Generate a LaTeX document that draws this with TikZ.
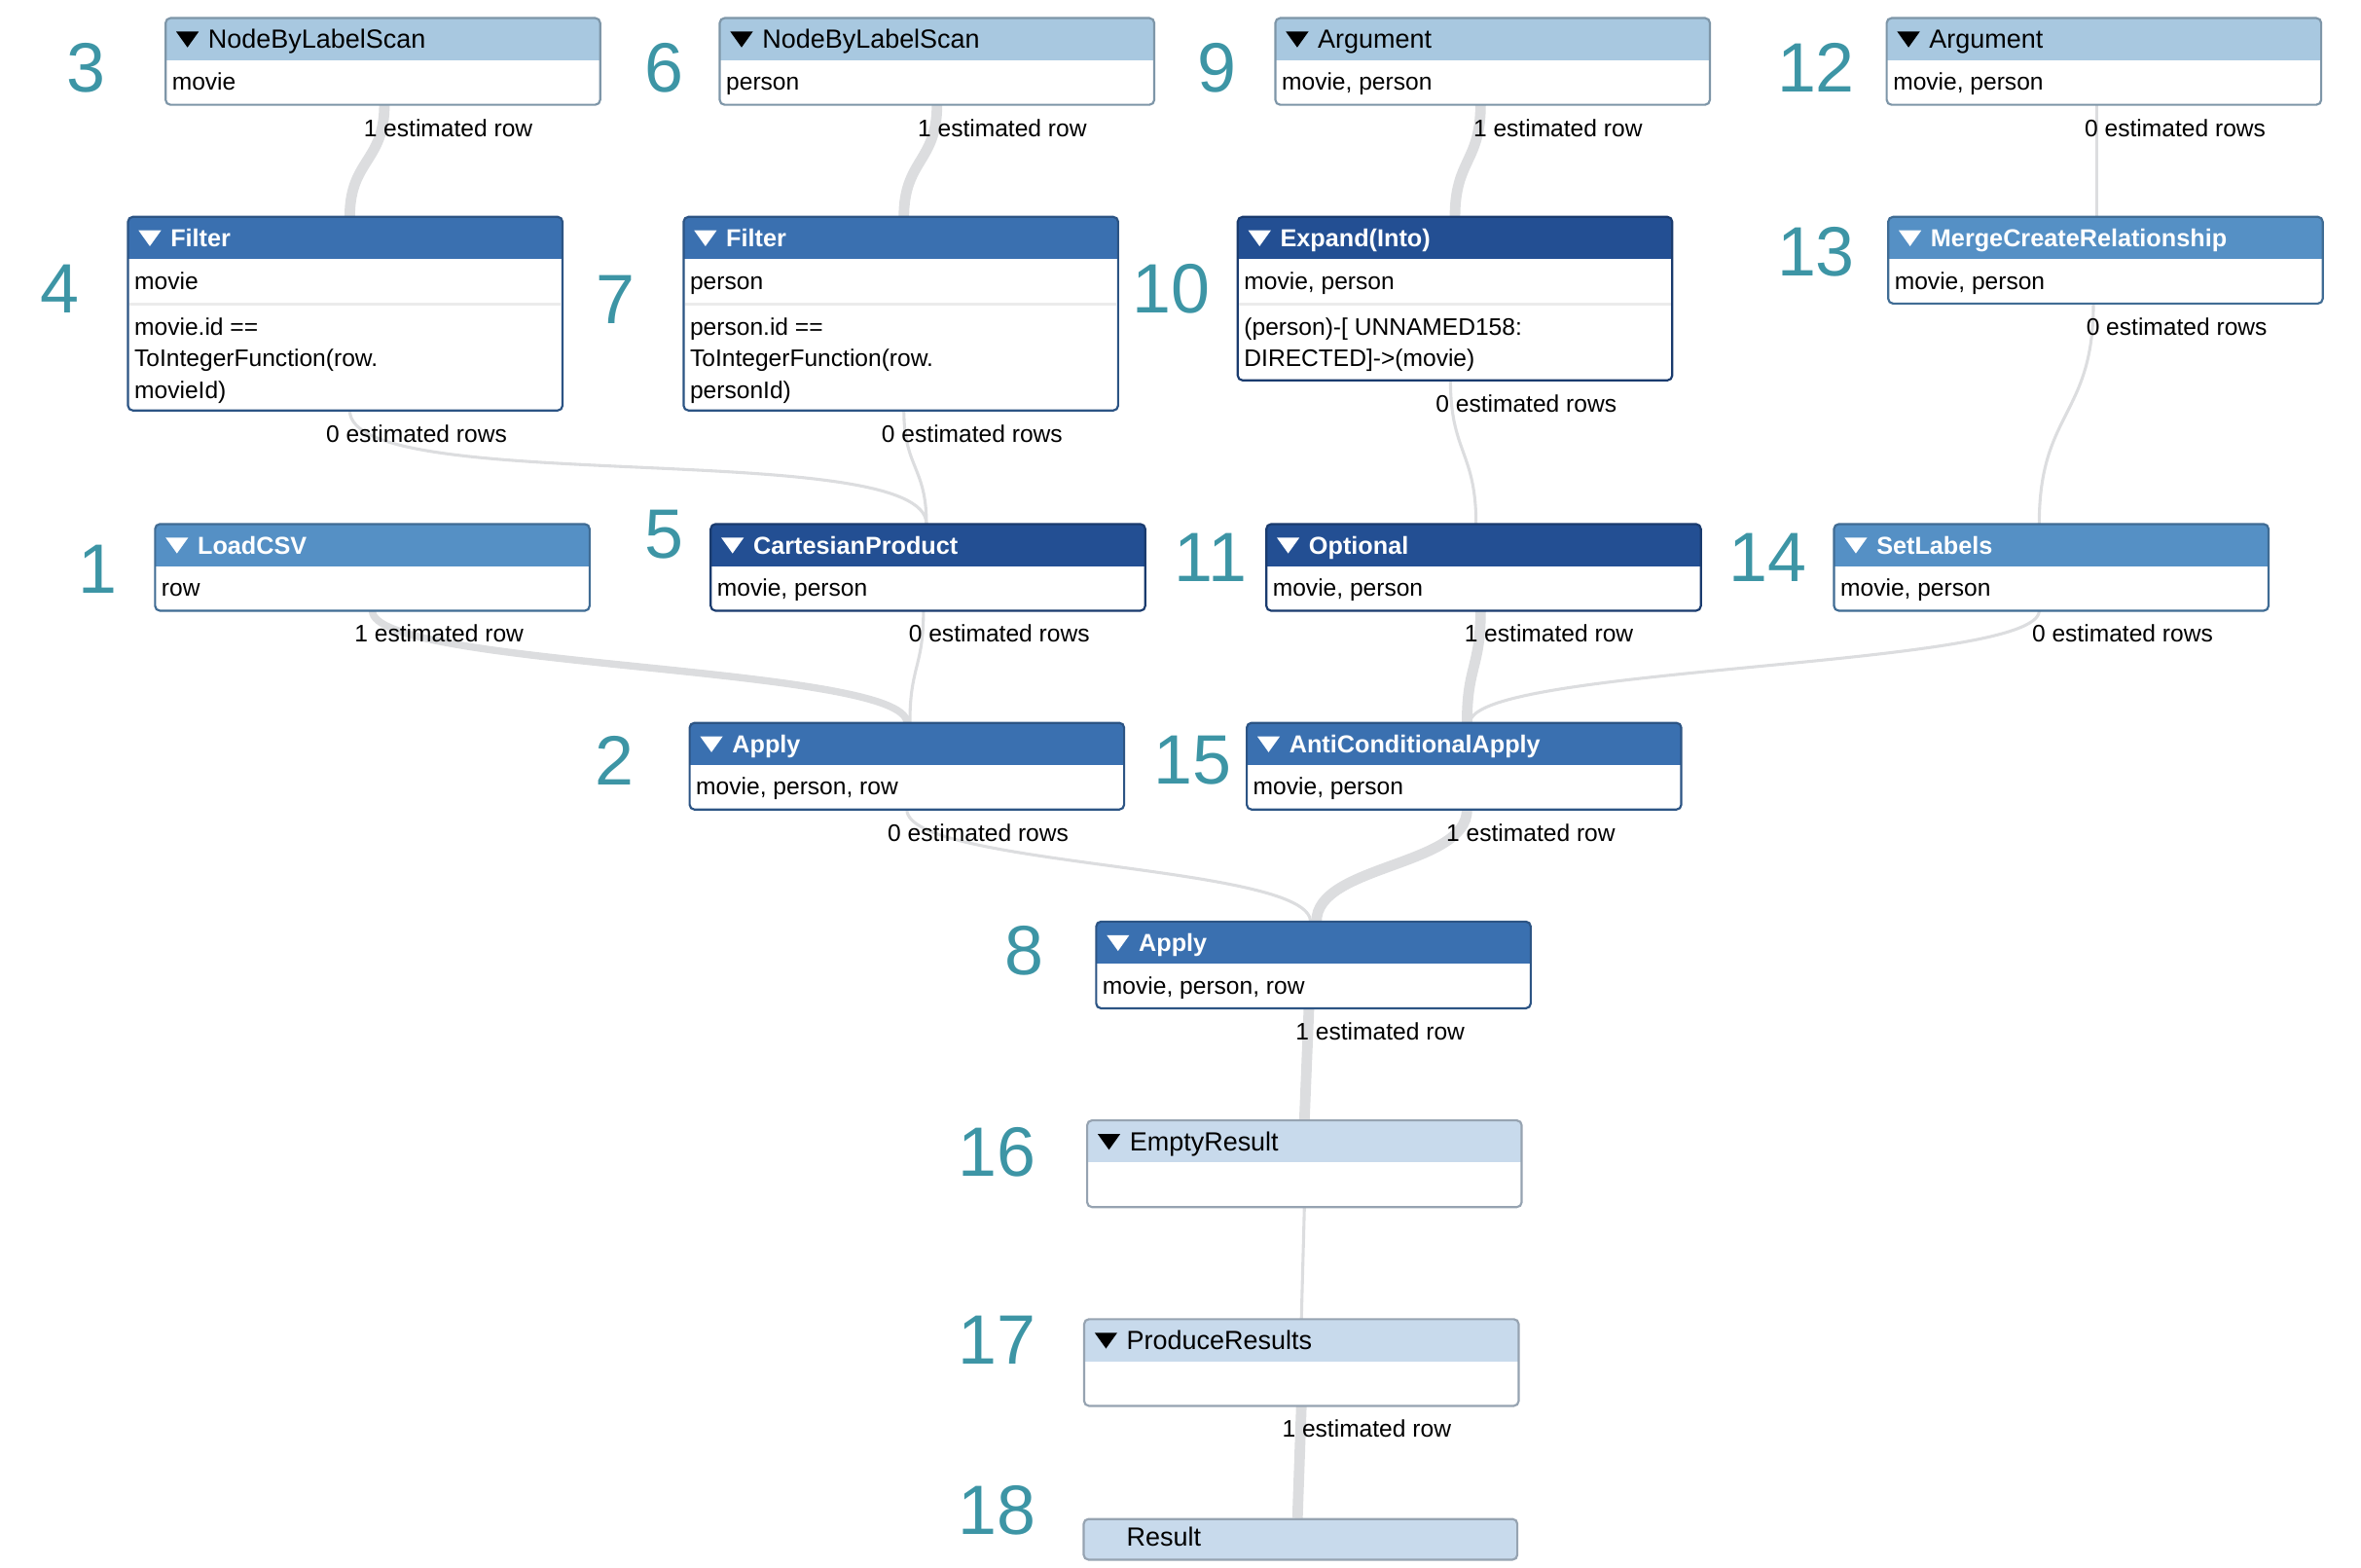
\documentclass[tikz,border=0pt]{standalone}
\usepackage{fontspec}
\setmainfont{Liberation Sans}
\usetikzlibrary{calc}
\pgfdeclarelayer{background}
\pgfsetlayers{background,main}

\definecolor{hdrlight}{HTML}{A8C8E0}
\definecolor{hdrfilter}{HTML}{3A70B0}
\definecolor{hdrdark}{HTML}{234F93}
\definecolor{hdrmid}{HTML}{5590C5}
\definecolor{hdrpale}{HTML}{C8DAEC}
\definecolor{flowgray}{HTML}{DCDDDF}
\definecolor{numteal}{HTML}{3D95A5}

\tikzset{
  boxframe/.style={draw=none, fill=white, minimum width=72mm, inner sep=0pt},
  bodytxt/.style={inner sep=0pt, anchor=base west, font=\fontsize{11.3}{13}\selectfont},
  titletxt/.style={inner sep=0pt, anchor=base west, font=\fontsize{11.6}{13}\selectfont},
  rowslbl/.style={inner sep=0pt, anchor=base west, font=\fontsize{11.3}{13}\selectfont},
  opnum/.style={text=numteal, font=\fontsize{33}{33}\selectfont},
  sepline/.style={draw=black!8, line width=0.5mm},
  bigflow/.style={draw=flowgray, line width=1.75mm},
  midflow/.style={draw=flowgray, line width=1.2mm},
  thinflow/.style={draw=flowgray, line width=0.5mm},
}
\newcommand\plaintitle{\fontsize{12.4}{13}\selectfont}

% name, top left, height, header colour, title colour, title font, title, first row
\newcommand\opbox[8]{%
  \node[boxframe, minimum height=#3, anchor=north west] (#1) at (#2) {};
  \begin{scope}
    \clip[rounded corners=0.8mm] (#1.north west) rectangle (#1.south east);
    \fill[#4] (#1.north west) rectangle ($(#1.north east)+(0,28)$);
  \end{scope}
  \draw[#4!75!black, line width=0.35mm, rounded corners=0.8mm] (#1.north west) rectangle (#1.south east);
  \fill[#5] ($(#1.north west)+(7,9)$) -- ++(15,0) -- ++(-7.5,10.5) -- cycle;
  \node[titletxt, text=#5] (#1t) at ($(#1.north west)+(28,20)$) {#6#7};
  \node[bodytxt] (#1b) at ($(#1.north west)+(4,48)$) {#8};
}
% second part of a box, below a thin rule
\newcommand\opextra[2]{%
  \draw[sepline] ($(#1.north west)+(1,58)$) -- ($(#1.north east)+(-1,58)$);
  \foreach \ln [count=\i] in {#2}
    \node[bodytxt] (#1x\i) at ($(#1.north west)+(4,57.5+21*\i)$) {\ln};
}

\begin{document}
\begin{tikzpicture}[x=0.25mm, y=-0.25mm]
  \useasboundingbox (0,0) rectangle (1568,1040.6);

  % top row
  \opbox{scan3}{110,12}{14.25mm}{hdrlight}{black}{\plaintitle}{NodeByLabelScan}{movie}
  \opbox{scan6}{478,12}{14.25mm}{hdrlight}{black}{\plaintitle}{NodeByLabelScan}{person}
  \opbox{arg9}{847,12}{14.25mm}{hdrlight}{black}{\plaintitle}{Argument}{movie, person}
  \opbox{arg12}{1253,12}{14.25mm}{hdrlight}{black}{\plaintitle}{Argument}{movie, person}

  % second row
  \opbox{filt4}{85,144}{32mm}{hdrfilter}{white}{\bfseries}{Filter}{movie}
  \opextra{filt4}{{movie.id ==}, {ToIntegerFunction(row.}, {movieId)}}
  \opbox{filt7}{454,144}{32mm}{hdrfilter}{white}{\bfseries}{Filter}{person}
  \opextra{filt7}{{person.id ==}, {ToIntegerFunction(row.}, {personId)}}
  \opbox{exp10}{822,144}{27mm}{hdrdark}{white}{\bfseries}{Expand(Into)}{movie, person}
  \opextra{exp10}{{(person)-[ UNNAMED158:}, {DIRECTED]->(movie)}}
  \opbox{merge13}{1254,144}{14.25mm}{hdrmid}{white}{\bfseries}{MergeCreateRelationship}{movie, person}

  % third row
  \opbox{load1}{103,348}{14.25mm}{hdrmid}{white}{\bfseries}{LoadCSV}{row}
  \opbox{cart5}{472,348}{14.25mm}{hdrdark}{white}{\bfseries}{CartesianProduct}{movie, person}
  \opbox{opt11}{841,348}{14.25mm}{hdrdark}{white}{\bfseries}{Optional}{movie, person}
  \opbox{set14}{1218,348}{14.25mm}{hdrmid}{white}{\bfseries}{SetLabels}{movie, person}

  % fourth row and below
  \opbox{apply2}{458,480}{14.25mm}{hdrfilter}{white}{\bfseries}{Apply}{movie, person, row}
  \opbox{anti15}{828,480}{14.25mm}{hdrfilter}{white}{\bfseries}{AntiConditionalApply}{movie, person}
  \opbox{apply8}{728,612}{14.25mm}{hdrfilter}{white}{\bfseries}{Apply}{movie, person, row}
  \opbox{empty16}{722,744}{14.25mm}{hdrpale}{black}{\plaintitle}{EmptyResult}{}
  \opbox{prod17}{720,876}{14.25mm}{hdrpale}{black}{\plaintitle}{ProduceResults}{}
  \node[boxframe, fill=hdrpale, draw=hdrpale!75!black, line width=0.35mm, rounded corners=0.8mm,
        minimum height=6.75mm, anchor=north west] (res18) at (719,1008) {};
  \node[titletxt, font=\plaintitle] (res18t) at ($(res18.north west)+(29,19)$) {Result};

  % flows
  \begin{pgfonlayer}{background}
    \draw[bigflow] ($(scan3.south)+(1,0)$) .. controls +(0,38) and +(0,-38) .. ($(filt4.north)+(3,0)$);
    \draw[bigflow] (scan6.south) .. controls +(0,38) and +(0,-38) .. ($(filt7.north)+(2,0)$);
    \draw[bigflow] ($(arg9.south)+(-8,0)$) .. controls +(0,38) and +(0,-38) .. (exp10.north);
    \draw[thinflow] ($(arg12.south)+(-5,0)$) -- ($(merge13.north)+(-6,0)$);
    \draw[thinflow] ($(filt4.south)+(3,0)$) .. controls +(0,58) and +(0,-58) .. ($(cart5.north)+(-1,0)$);
    \draw[thinflow] ($(filt7.south)+(2,0)$) .. controls +(0,38) and +(0,-38) .. ($(cart5.north)+(-1,0)$);
    \draw[thinflow] ($(exp10.south)+(-3,0)$) .. controls +(0,48) and +(0,-48) .. ($(opt11.north)+(-5,0)$);
    \draw[thinflow] ($(merge13.south)+(-8,0)$) .. controls +(0,75) and +(0,-75) .. ($(set14.north)+(-8,0)$);
    \draw[midflow] (load1.south) .. controls +(0,38) and +(0,-38) .. (apply2.north);
    \draw[thinflow] ($(cart5.south)+(-3,0)$) .. controls +(0,38) and +(0,-38) .. ($(apply2.north)+(2,0)$);
    \draw[bigflow] ($(opt11.south)+(-2,0)$) .. controls +(0,38) and +(0,-38) .. ($(anti15.north)+(2,0)$);
    \draw[thinflow] ($(set14.south)+(-8,0)$) .. controls +(0,38) and +(0,-38) .. ($(anti15.north)+(4,0)$);
    \draw[thinflow] (apply2.south) .. controls +(0,38) and +(0,-38) .. ($(apply8.north)+(-2,0)$);
    \draw[bigflow] ($(anti15.south)+(2,0)$) .. controls +(0,38) and +(0,-38) .. ($(apply8.north)+(2,0)$);
    \draw[bigflow] ($(apply8.south)+(-3,0)$) -- (empty16.north);
    \draw[thinflow] (empty16.south) -- (prod17.north);
    \draw[bigflow] (prod17.south) -- ($(res18.north)+(-2,0)$);
  \end{pgfonlayer}

  % row estimates
  \node[rowslbl] (r3) at ($(scan3.south)+(-13,21)$) {1 estimated row};
  \node[rowslbl] (r6) at ($(scan6.south)+(-13,21)$) {1 estimated row};
  \node[rowslbl] (r9) at ($(arg9.south)+(-13,21)$) {1 estimated row};
  \node[rowslbl] (r12) at ($(arg12.south)+(-13,21)$) {0 estimated rows};
  \node[rowslbl] (r4) at ($(filt4.south)+(-13,21)$) {0 estimated rows};
  \node[rowslbl] (r7) at ($(filt7.south)+(-13,21)$) {0 estimated rows};
  \node[rowslbl] (r10) at ($(exp10.south)+(-13,21)$) {0 estimated rows};
  \node[rowslbl] (r13) at ($(merge13.south)+(-13,21)$) {0 estimated rows};
  \node[rowslbl] (r1) at ($(load1.south)+(-12,21)$) {1 estimated row};
  \node[rowslbl] (r5) at ($(cart5.south)+(-13,21)$) {0 estimated rows};
  \node[rowslbl] (r11) at ($(opt11.south)+(-13,21)$) {1 estimated row};
  \node[rowslbl] (r14) at ($(set14.south)+(-13,21)$) {0 estimated rows};
  \node[rowslbl] (r2) at ($(apply2.south)+(-13,21)$) {0 estimated rows};
  \node[rowslbl] (r15) at ($(anti15.south)+(-12,21)$) {1 estimated row};
  \node[rowslbl] (r8) at ($(apply8.south)+(-12,21)$) {1 estimated row};
  \node[rowslbl] (r17) at ($(prod17.south)+(-13,21)$) {1 estimated row};

  % step numbers
  \node[opnum] (n1) at (65,378) {1};
  \node[opnum] (n2) at (408,505) {2};
  \node[opnum] (n3) at (57,45) {3};
  \node[opnum] (n4) at (40,192) {4};
  \node[opnum] (n5) at (441,355) {5};
  \node[opnum] (n6) at (441,45) {6};
  \node[opnum] (n7) at (409,199) {7};
  \node[opnum] (n8) at (680,631) {8};
  \node[opnum] (n9) at (808,45) {9};
  \node[opnum] (n10) at (778,192) {10};
  \node[opnum] (n11) at (804,370) {11};
  \node[opnum] (n12) at (1206,45) {12};
  \node[opnum] (n13) at (1206,167) {13};
  \node[opnum] (n14) at (1174,370) {14};
  \node[opnum] (n15) at (792,505) {15};
  \node[opnum] (n16) at (662,765) {16};
  \node[opnum] (n17) at (662,890) {17};
  \node[opnum] (n18) at (662,1003) {18};
\end{tikzpicture}
\end{document}
